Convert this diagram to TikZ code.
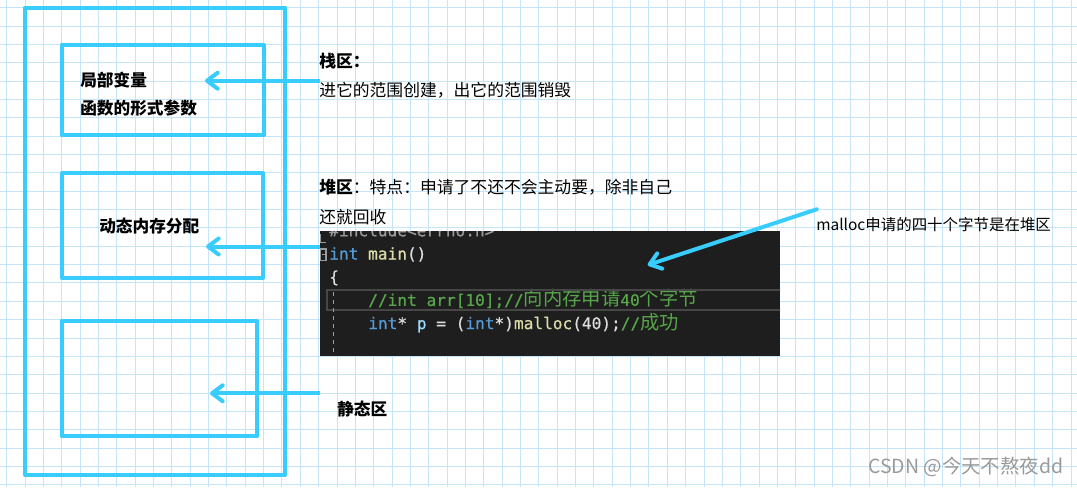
\documentclass[tikz,border=0pt]{standalone}
\usepackage{fontspec}
\usetikzlibrary{arrows.meta}
\newfontfamily\cjk{Noto Sans CJK SC}
\newfontfamily\mono[FakeBold=0.6]{DejaVu Sans Mono}
\definecolor{bl}{HTML}{38CCFF}
\definecolor{gridc}{HTML}{C4E4FA}
\definecolor{codebg}{HTML}{1E1E1E}
\definecolor{kw}{HTML}{569CD6}
\definecolor{fn}{HTML}{DCDCAA}
\definecolor{vr}{HTML}{9CDCFE}
\definecolor{cm}{HTML}{57A64A}
\definecolor{pl}{HTML}{DCDCDC}
\definecolor{pp}{HTML}{9B9B9B}
\definecolor{hl}{HTML}{464646}
\definecolor{wm}{HTML}{9A9A9A}
\newcommand\cj[1]{{\fontsize{14.5pt}{16pt}\cjk #1}}
\begin{document}
\begin{tikzpicture}[x=0.75pt,y=-0.75pt,
  gridline/.style={gridc, line width=0.75pt},
  bx/.style={bl, line width=3pt, line join=round},
  arr/.style={bl, line width=3pt, -{Straight Barb[length=8pt,width=12pt,round]}},
  lbl/.style={anchor=west, inner sep=0pt, font=\fontsize{12.5pt}{15pt}\cjk\bfseries},
  note/.style={anchor=west, inner sep=0pt, font=\fontsize{12.6pt}{15pt}\cjk},
  code/.style={anchor=base west, inner sep=0pt, font=\fontsize{12.1pt}{14pt}\mono, text=pl}]
\useasboundingbox[fill=white] (0,0) rectangle (1077,487);
% grid
\foreach \i in {0,...,58} \draw[gridline] ({6.7+18.35*\i},0) -- ({6.7+18.35*\i},487);
\foreach \j in {0,...,26} \draw[gridline] (0,{7.7+18.35*\j}) -- (1077,{7.7+18.35*\j});
% boxes
\draw[bx] (25,7.5) rectangle (284.5,475);
\draw[bx] (61.7,44.5) rectangle (264,135);
\draw[bx] (61.7,173.3) rectangle (263,278);
\draw[bx] (61.7,320.7) rectangle (256.7,436.3);
% box texts
\node[lbl] (t1) at (80,80) {局部变量};
\node[lbl] (t2) at (80,108) {函数的形式参数};
\node[lbl] (t3) at (99,225.7) {动态内存分配};
\node[lbl] (t4) at (337,409) {静态区};
% notes
\node[note] (n1) at (319,61) {\bfseries 栈区：};
\node[note] (n2) at (319,90) {进它的范围创建，出它的范围销毁};
\node[note] (n3) at (319,187.7) {{\bfseries 堆区}：特点：申请了不还不会主动要，除非自己};
\node[note] (n4) at (319,217.5) {还就回收};
\node[note, font=\fontsize{11.6pt}{14pt}\cjk] (n5) at (816,225) {malloc申请的四十个字节是在堆区};
% code screenshot
\fill[codebg] (319.5,231) rectangle (780,355.5);
\begin{scope}
\clip (319.5,231) rectangle (780,355.5);
\node[code, text=pp] (c0) at (329,236.3) {\#include<errno.h>};
\node[code] (c1) at (329,259.5) {\textcolor{kw}{int} \textcolor{fn}{main}()};
\node[code] (c2) at (329,282.7) {\{};
\node[code, text=cm] (c3) at (368,305.9) {//int arr[10];//\cj{向内存申请}40\cj{个字节}};
\node[code] (c4) at (368,329.1) {\textcolor{kw}{int}* \textcolor{vr}{p} = (\textcolor{kw}{int}*)\textcolor{fn}{malloc}(40);\textcolor{cm}{//\cj{成功}}};
\draw[hl, line width=1.5pt] (327.3,290) rectangle (790,310);
\draw[pp, line width=0.9pt] (320.8,234) -- (320.8,242.5) -- (326,242.5);
\draw[pp, line width=0.9pt] (320.8,249) rectangle (326,260.5);
\draw[pp, line width=0.9pt] (321.5,254.7) -- (325.3,254.7);
\draw[pp, line width=1.2pt, dash pattern=on 3pt off 3pt] (333.3,292) -- (333.3,356);
\end{scope}
% arrows
\coordinate (s1) at (320,80.7);  \coordinate (e1) at (205,80.7);
\coordinate (s2) at (320,246.5); \coordinate (e2) at (206,246.5);
\coordinate (s3) at (320,393.3); \coordinate (e3) at (210,393.3);
\coordinate (s4) at (816.7,209.3); \coordinate (e4) at (647.7,265);
\draw[arr] (s1) -- (e1);
\draw[arr] (s2) -- (e2);
\draw[arr] (s3) -- (e3);
\draw[arr, line cap=round] (s4) -- (e4);
% watermark
\node[anchor=west, inner sep=0pt, text=wm, font=\fontsize{14.6pt}{16pt}\cjk] (w) at (868,467) {CSDN @今天不熬夜dd};
\end{tikzpicture}
\end{document}
